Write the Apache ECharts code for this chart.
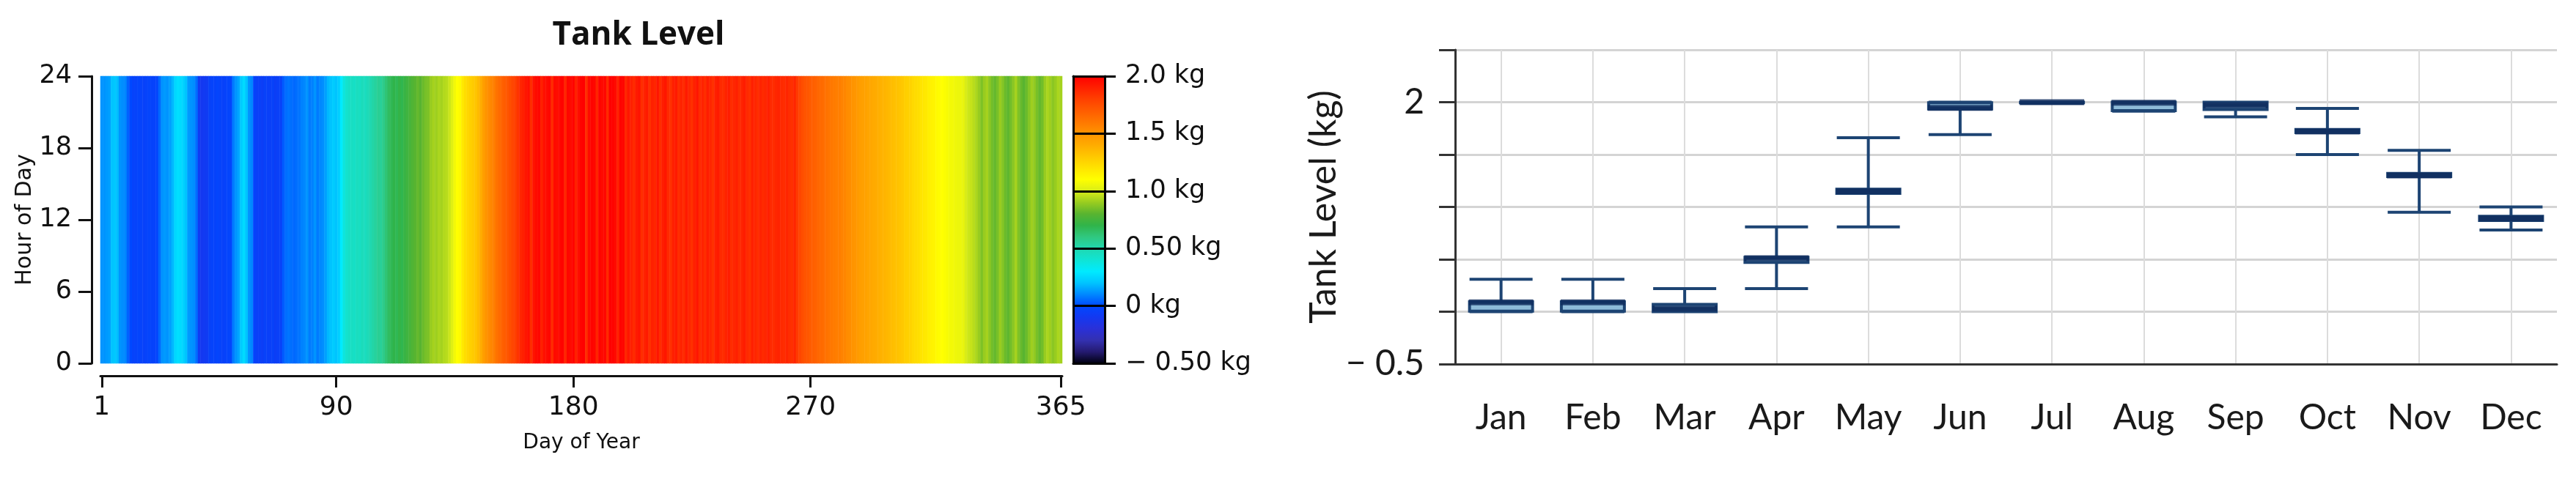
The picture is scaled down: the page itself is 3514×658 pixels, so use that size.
<!DOCTYPE html>
<html><head><meta charset="utf-8">
<script src="https://cdn.jsdelivr.net/npm/echarts@6/dist/echarts.min.js"></script>
<style>html,body{margin:0;padding:0;background:#fff}#c{width:3514px;height:658px}</style>
</head><body><div id="c"></div>
<script>
// ---------- Left chart: daily tank level (kg), day 1..365 ----------
const dayTickLabels = [1, 90, 180, 270, 365];
const dailyLevel = [
0.12,0.12,0.13,0.14,0.20,0.21,0.19,0.12,0.11,0.10,
0.04,0.00,-0.03,-0.03,-0.02,-0.03,-0.04,-0.03,-0.02,-0.03,
-0.03,-0.02,0.05,0.12,0.13,0.12,0.14,0.18,0.25,0.27,
0.26,0.24,0.20,0.13,0.12,0.11,0.06,-0.08,-0.10,-0.09,
-0.08,-0.04,-0.03,-0.03,-0.02,-0.03,-0.04,-0.03,-0.02,-0.02,
0.08,0.12,0.15,0.22,0.26,0.20,0.12,0.10,-0.03,-0.05,
-0.05,-0.06,-0.04,-0.05,-0.05,-0.04,-0.06,-0.05,-0.04,0.03,
0.06,0.07,0.06,0.05,0.06,0.07,0.09,0.10,0.12,0.08,
0.09,0.12,0.08,0.10,0.11,0.14,0.18,0.20,0.22,0.20,
0.23,0.30,0.38,0.42,0.44,0.45,0.44,0.46,0.45,0.47,
0.46,0.48,0.50,0.52,0.54,0.56,0.55,0.58,0.62,0.66,
0.68,0.70,0.68,0.71,0.69,0.72,0.74,0.76,0.78,0.80,
0.82,0.80,0.83,0.85,0.86,0.90,0.92,0.91,0.93,0.92,
0.94,0.95,0.98,1.02,1.07,1.10,1.12,1.18,1.22,1.25,
1.27,1.29,1.31,1.35,1.40,1.46,1.50,1.53,1.55,1.58,
1.62,1.65,1.68,1.70,1.72,1.75,1.78,1.80,1.84,1.88,
1.90,1.93,1.95,1.86,1.94,1.97,1.98,1.90,1.95,1.97,
1.98,1.87,1.97,1.96,1.98,1.99,1.88,1.98,1.97,1.99,
1.90,1.96,1.99,2.00,1.86,1.97,1.99,1.98,1.89,1.99,
1.97,1.98,1.87,2.00,1.99,1.97,1.90,1.99,1.98,1.88,
1.93,1.90,1.87,1.92,1.94,1.86,1.89,1.92,1.85,1.90,
1.88,1.93,1.86,1.91,1.93,1.87,1.85,1.90,1.92,1.86,
1.89,1.87,1.92,1.88,1.85,1.90,1.93,1.87,1.89,1.86,
1.91,1.88,1.85,1.90,1.92,1.87,1.86,1.89,1.91,1.86,
1.88,1.90,1.86,1.89,1.91,1.87,1.85,1.90,1.88,1.86,
1.89,1.87,1.88,1.90,1.87,1.86,1.88,1.89,1.87,1.86,
1.88,1.86,1.85,1.88,1.82,1.78,1.75,1.73,1.72,1.70,
1.69,1.68,1.66,1.65,1.64,1.62,1.61,1.60,1.59,1.58,
1.58,1.56,1.55,1.53,1.52,1.50,1.49,1.47,1.46,1.45,
1.44,1.43,1.42,1.41,1.40,1.39,1.38,1.37,1.36,1.35,
1.34,1.33,1.32,1.31,1.30,1.28,1.27,1.26,1.24,1.23,
1.22,1.20,1.19,1.18,1.16,1.15,1.14,1.12,1.11,1.10,
1.09,1.08,1.07,1.07,1.06,1.05,1.05,1.04,1.00,0.98,
0.97,0.95,0.93,0.90,0.86,0.90,0.92,0.88,0.84,0.82,
0.85,0.90,0.87,0.83,0.81,0.84,0.88,0.92,0.86,0.82,
0.80,0.83,0.87,0.91,0.89,0.85,0.82,0.84,0.90,0.93,
0.91,0.88,0.90,0.93,0.92
];
const hourSpan = ['0-24'];
const colorbarTicks = [-0.5, 0, 0.5, 1, 1.5, 2];
const colorbarLabels = ['\u2212 0.50 kg', '0 kg', '0.50 kg', '1.0 kg', '1.5 kg', '2.0 kg'];
const colorScale = [
'#000010','#241a70','#3330b0','#2a30d8','#1438f0',
'#0048ff','#0088ff','#00c4ff','#00eaff','#10e4d4',
'#20d8b0','#30c880','#30b44a','#58b430','#98cc20',
'#d8ec18','#ffff00','#ffe400','#ffc800','#ffac00',
'#ff9400','#ff7800','#ff5c00','#ff4000','#ff2000','#ff0000'
];

// ---------- Right chart: monthly distribution (kg) ----------
const months = ['Jan','Feb','Mar','Apr','May','Jun','Jul','Aug','Sep','Oct','Nov','Dec'];
const boxMin    = [0.00, 0.00, 0.00, 0.22, 0.81, 1.69, 1.99, 1.915, 1.86, 1.50, 0.95, 0.78];
const boxQ1     = [0.005,0.005,0.00, 0.47, 1.13, 1.935,1.995,1.92, 1.93, 1.71, 1.29, 0.87];
const boxMedian = [0.09, 0.09, 0.03, 0.51, 1.15, 1.945,2.00, 1.995,1.97, 1.72, 1.30, 0.89];
const boxQ3     = [0.095,0.095,0.07, 0.52, 1.17, 1.995,2.00, 2.00, 2.00, 1.74, 1.32, 0.91];
const boxMax    = [0.31, 0.31, 0.22, 0.81, 1.66, 2.00, 2.00, 2.00, 2.00, 1.94, 1.54, 1.00];
const rightTickValues = [-0.5, 2];
const rightTickTexts = ['\u2212 0.5', '2'];

const days = Array.from({length: 365}, (_, i) => String(i + 1));
const LF = 'DejaVu Sans';
const RF = 'Lato';

const chart = echarts.init(document.getElementById('c'));
const cbFmt = v => { const k = colorbarTicks.indexOf(v); return k >= 0 ? colorbarLabels[k] : ''; };
const rFmt = v => { const k = rightTickValues.indexOf(v); return k >= 0 ? rightTickTexts[k] : ''; };
const frameAxis = {
  axisLine: {show: true, onZero: false, lineStyle: {color: '#000', width: 3}},
  axisTick: {show: false}, axisLabel: {show: false}, splitLine: {show: false}
};

chart.setOption({
  animation: false,
  backgroundColor: '#fff',
  title: {
    text: 'Tank Level', left: 871, top: 26, textAlign: 'center', padding: 0,
    textStyle: {fontFamily: 'Open Sans', fontWeight: 'bold', fontSize: 44, color: '#111'}
  },
  grid: [
    {left: 137, top: 104, width: 1312, height: 392},
    {left: 1985, top: 68, width: 1503, height: 429},
    {left: 1464, top: 104, width: 43, height: 392}
  ],
  visualMap: {
    type: 'continuous', min: -0.5, max: 2, dimension: 2, seriesIndex: 0,
    calculable: false, hoverLink: false, orient: 'vertical',
    left: 1464, top: 104, itemWidth: 43, itemHeight: 392, padding: 0,
    inRange: {color: colorScale}
  },
  xAxis: [
    {type: 'category', gridIndex: 0, data: days, show: false},
    {
      type: 'category', gridIndex: 1, data: months,
      axisLine: {onZero: false, lineStyle: {color: '#333', width: 3}},
      axisTick: {alignWithLabel: true, length: 20, lineStyle: {color: '#333', width: 3}},
      axisLabel: {fontFamily: RF, fontSize: 48, color: '#1a1a1a', margin: 50},
      splitLine: {show: true, alignWithLabel: true, lineStyle: {color: '#dcdcdc', width: 2}}
    },
    Object.assign({type: 'value', gridIndex: 2, min: 0, max: 1, position: 'bottom', z: 10}, frameAxis),
    Object.assign({type: 'value', gridIndex: 2, min: 0, max: 1, position: 'top', z: 10}, frameAxis),
    {
      type: 'value', gridIndex: 0, min: 0.5, max: 365.5, position: 'bottom', offset: 17,
      axisLine: {show: true, onZero: false, lineStyle: {color: '#111', width: 3}},
      axisTick: {show: true, length: 16, customValues: dayTickLabels, lineStyle: {color: '#111', width: 3}},
      axisLabel: {customValues: dayTickLabels, fontFamily: LF, fontSize: 36, color: '#111', margin: 26},
      splitLine: {show: false},
      name: 'Day of Year', nameLocation: 'middle', nameGap: 78,
      nameTextStyle: {fontFamily: LF, fontSize: 28, color: '#111'}
    }
  ],
  yAxis: [
    {
      type: 'value', gridIndex: 0, min: 0, max: 24, interval: 6, offset: 12, position: 'left',
      axisLine: {show: true, onZero: false, lineStyle: {color: '#111', width: 3}},
      axisTick: {show: true, length: 18, lineStyle: {color: '#111', width: 3}},
      axisLabel: {fontFamily: LF, fontSize: 35, color: '#111', margin: 27},
      splitLine: {show: false},
      name: 'Hour of Day', nameLocation: 'middle', nameGap: 70,
      nameTextStyle: {fontFamily: LF, fontSize: 30, color: '#111'}
    },
    {type: 'category', gridIndex: 0, data: hourSpan, show: false, position: 'right'},
    {
      type: 'value', gridIndex: 1, min: -0.5, max: 2.5, interval: 0.5,
      axisLine: {show: true, onZero: false, lineStyle: {color: '#333', width: 3}},
      axisTick: {show: true, length: 22, lineStyle: {color: '#333', width: 3}},
      axisLabel: {formatter: rFmt, fontFamily: RF, fontSize: 48, color: '#1a1a1a', margin: 42},
      splitLine: {show: true, lineStyle: {color: '#d4d4d4', width: 3}},
      name: 'Tank Level (kg)', nameLocation: 'middle', nameGap: 154,
      nameTextStyle: {fontFamily: RF, fontSize: 50, color: '#1a1a1a'}
    },
    {
      type: 'value', gridIndex: 2, min: -0.5, max: 2, interval: 0.5, position: 'right', z: 10,
      axisLine: {show: true, onZero: false, lineStyle: {color: '#000', width: 3}},
      axisTick: {show: true, length: 15, lineStyle: {color: '#000', width: 3}},
      axisLabel: {formatter: cbFmt, fontFamily: LF, fontSize: 35, color: '#111', margin: 28},
      splitLine: {show: true, lineStyle: {color: '#000', width: 3}}
    },
    Object.assign({type: 'value', gridIndex: 2, min: -0.5, max: 2, position: 'left', z: 10}, frameAxis)
  ],
  series: [
    {
      type: 'heatmap', xAxisIndex: 0, yAxisIndex: 1,
      data: dailyLevel.map((v, i) => [i, 0, v]),
      progressive: 0, itemStyle: {borderWidth: 0}, emphasis: {disabled: true}
    },
    {
      type: 'boxplot', xAxisIndex: 1, yAxisIndex: 2,
      data: months.map((m, i) => [boxMin[i], boxQ1[i], boxMedian[i], boxQ3[i], boxMax[i]]),
      boxWidth: [86, 86],
      itemStyle: {color: '#8dbad8', borderColor: '#1d4473', borderWidth: 4}
    },
    {
      type: 'scatter', xAxisIndex: 1, yAxisIndex: 2, z: 5,
      data: months.map((m, i) => [i, boxMedian[i]]),
      symbol: 'rect', symbolSize: [88, 8], itemStyle: {color: '#0f2c5c'}
    }
  ]
});
</script></body></html>
